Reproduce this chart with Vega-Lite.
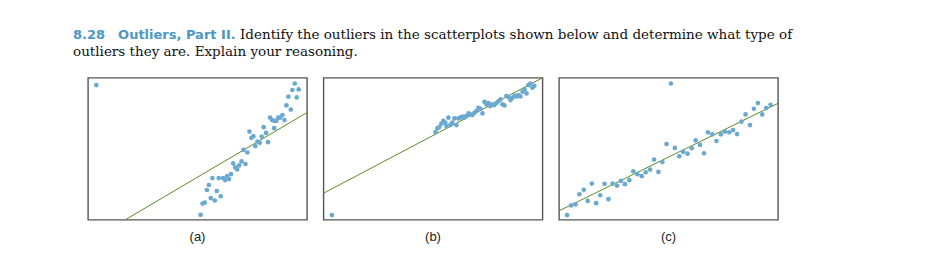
{
  "$schema": "https://vega.github.io/schema/vega-lite/v6.json",
  "padding": {"left": 73, "top": 28, "right": 5, "bottom": 5},
  "background": "white",
  "config": {
    "view": {"stroke": "#555", "strokeWidth": 1.4},
    "axis": {"disable": true}
  },
  "datasets": {
    "header": [
      {"line": 1, "part": "lead", "text": "8.28\u2002\u2002Outliers, Part II."},
      {"line": 1, "part": "body", "text": "Identify the outliers in the scatterplots shown below and determine what type of"},
      {"line": 2, "part": "body", "text": "outliers they are. Explain your reasoning."}
    ],
    "a_pts": [
      {"x": 3.8, "y": 94.9}, {"x": 94.4, "y": 96.0}, {"x": 93.3, "y": 91.4}, {"x": 96.2, "y": 91.8},
      {"x": 91.5, "y": 86.7}, {"x": 95.3, "y": 86.2}, {"x": 90.6, "y": 80.6}, {"x": 92.6, "y": 77.6},
      {"x": 83.1, "y": 72.0}, {"x": 84.0, "y": 70.3}, {"x": 85.1, "y": 69.6}, {"x": 86.0, "y": 69.6},
      {"x": 86.9, "y": 72.0}, {"x": 87.8, "y": 72.0}, {"x": 88.8, "y": 73.8}, {"x": 89.7, "y": 70.3},
      {"x": 85.0, "y": 64.5}, {"x": 80.2, "y": 65.2}, {"x": 81.3, "y": 61.2}, {"x": 79.3, "y": 58.6},
      {"x": 82.2, "y": 54.7}, {"x": 73.7, "y": 62.1}, {"x": 74.6, "y": 57.7}, {"x": 75.5, "y": 58.9},
      {"x": 77.4, "y": 55.1}, {"x": 76.4, "y": 51.9}, {"x": 78.4, "y": 54.2}, {"x": 71.0, "y": 49.3},
      {"x": 72.8, "y": 47.4}, {"x": 70.1, "y": 41.1}, {"x": 71.9, "y": 39.3}, {"x": 66.3, "y": 39.7},
      {"x": 67.2, "y": 36.9}, {"x": 68.1, "y": 35.5}, {"x": 69.0, "y": 38.3}, {"x": 65.3, "y": 32.2},
      {"x": 63.5, "y": 30.8}, {"x": 62.6, "y": 28.0}, {"x": 64.4, "y": 28.7}, {"x": 61.7, "y": 29.4},
      {"x": 59.7, "y": 29.4}, {"x": 56.8, "y": 29.4}, {"x": 55.2, "y": 24.5}, {"x": 54.3, "y": 21.0},
      {"x": 58.8, "y": 20.3}, {"x": 60.6, "y": 16.6}, {"x": 56.1, "y": 15.2}, {"x": 57.9, "y": 13.6},
      {"x": 52.3, "y": 11.4}, {"x": 53.3, "y": 12.1}, {"x": 51.4, "y": 3.5}
    ],
    "a_line": [{"x": 17.0, "y": 0}, {"x": 100, "y": 75.5}],
    "b_pts": [
      {"x": 3.8, "y": 3.3}, {"x": 51.1, "y": 61.8}, {"x": 52.0, "y": 64.4}, {"x": 52.9, "y": 65.3},
      {"x": 53.8, "y": 67.7}, {"x": 54.7, "y": 69.6}, {"x": 55.6, "y": 68.4}, {"x": 57.0, "y": 71.9},
      {"x": 56.1, "y": 66.0}, {"x": 57.9, "y": 66.7}, {"x": 58.8, "y": 68.4}, {"x": 59.8, "y": 71.4},
      {"x": 60.7, "y": 66.7}, {"x": 61.6, "y": 71.4}, {"x": 62.5, "y": 71.9}, {"x": 63.4, "y": 72.6},
      {"x": 64.3, "y": 71.9}, {"x": 65.2, "y": 73.1}, {"x": 66.2, "y": 74.9}, {"x": 67.1, "y": 74.2},
      {"x": 68.0, "y": 73.8}, {"x": 68.9, "y": 75.4}, {"x": 69.8, "y": 76.6}, {"x": 70.7, "y": 78.9},
      {"x": 71.6, "y": 78.2}, {"x": 72.6, "y": 74.9}, {"x": 73.5, "y": 83.1}, {"x": 74.4, "y": 81.3},
      {"x": 75.3, "y": 82.2}, {"x": 76.2, "y": 80.1}, {"x": 77.1, "y": 81.3}, {"x": 78.0, "y": 80.8},
      {"x": 79.0, "y": 82.2}, {"x": 79.9, "y": 83.6}, {"x": 80.8, "y": 84.8}, {"x": 81.7, "y": 81.3},
      {"x": 82.6, "y": 80.6}, {"x": 83.5, "y": 87.1}, {"x": 84.5, "y": 86.4}, {"x": 85.4, "y": 84.3},
      {"x": 86.3, "y": 85.9}, {"x": 87.2, "y": 87.4}, {"x": 88.1, "y": 86.9}, {"x": 89.0, "y": 87.8},
      {"x": 89.9, "y": 86.9}, {"x": 90.9, "y": 90.2}, {"x": 91.8, "y": 91.8}, {"x": 92.7, "y": 89.0},
      {"x": 93.6, "y": 94.8}, {"x": 94.5, "y": 96.0}, {"x": 95.4, "y": 93.0}, {"x": 96.3, "y": 94.4}
    ],
    "b_line": [{"x": 0, "y": 18.7}, {"x": 100, "y": 100}],
    "c_pts": [
      {"x": 3.7, "y": 3.3}, {"x": 5.5, "y": 10.1}, {"x": 7.5, "y": 10.8}, {"x": 9.3, "y": 18.0},
      {"x": 11.3, "y": 21.1}, {"x": 13.1, "y": 13.3}, {"x": 15.0, "y": 25.5}, {"x": 17.0, "y": 11.7},
      {"x": 18.8, "y": 17.3}, {"x": 20.8, "y": 25.3}, {"x": 22.6, "y": 14.5}, {"x": 24.5, "y": 25.5},
      {"x": 26.5, "y": 24.1}, {"x": 28.3, "y": 27.4}, {"x": 30.1, "y": 25.1}, {"x": 32.1, "y": 27.9},
      {"x": 33.9, "y": 34.2}, {"x": 35.8, "y": 32.1}, {"x": 37.8, "y": 30.7}, {"x": 39.6, "y": 33.5},
      {"x": 41.6, "y": 35.4}, {"x": 43.4, "y": 42.4}, {"x": 45.4, "y": 33.7}, {"x": 47.2, "y": 40.7},
      {"x": 49.1, "y": 53.4}, {"x": 51.1, "y": 96.0}, {"x": 52.9, "y": 50.6}, {"x": 54.9, "y": 44.7},
      {"x": 56.7, "y": 47.8}, {"x": 58.7, "y": 46.6}, {"x": 60.6, "y": 50.4}, {"x": 62.4, "y": 56.0},
      {"x": 64.4, "y": 52.7}, {"x": 66.2, "y": 46.8}, {"x": 68.0, "y": 61.6}, {"x": 70.0, "y": 60.2},
      {"x": 71.9, "y": 55.5}, {"x": 73.9, "y": 60.2}, {"x": 75.7, "y": 62.1}, {"x": 77.7, "y": 61.6},
      {"x": 79.5, "y": 63.2}, {"x": 81.3, "y": 60.4}, {"x": 83.3, "y": 69.1}, {"x": 85.2, "y": 74.2},
      {"x": 87.2, "y": 66.7}, {"x": 89.0, "y": 78.2}, {"x": 90.8, "y": 82.2}, {"x": 92.8, "y": 74.2},
      {"x": 94.6, "y": 78.7}, {"x": 96.6, "y": 81.0}
    ],
    "c_line": [{"x": 0, "y": 6.3}, {"x": 100, "y": 82.0}]
  },
  "vconcat": [
    {
      "width": 690,
      "height": 16.5,
      "view": {"stroke": null},
      "data": {"name": "header"},
      "encoding": {
        "x": {"datum": 0, "type": "quantitative", "scale": {"domain": [0, 1]}},
        "y": {"field": "line", "type": "ordinal", "scale": {"type": "point", "padding": 0}},
        "text": {"field": "text"}
      },
      "layer": [
        {
          "transform": [{"filter": "datum.part == 'lead'"}],
          "mark": {"type": "text", "align": "left", "baseline": "alphabetic", "dx": -15, "font": "DejaVu Sans", "fontWeight": "bold", "fontSize": 13, "color": "#4f97c3"}
        },
        {
          "transform": [{"filter": "datum.part == 'body' && datum.line == 1"}],
          "mark": {"type": "text", "align": "left", "baseline": "alphabetic", "dx": 152, "font": "DejaVu Serif", "fontSize": 13.5, "color": "#111"}
        },
        {
          "transform": [{"filter": "datum.part == 'body' && datum.line == 2"}],
          "mark": {"type": "text", "align": "left", "baseline": "alphabetic", "dx": -15, "font": "DejaVu Serif", "fontSize": 13.5, "color": "#111"}
        }
      ]
    },
    {
      "hconcat": [
        {
          "width": 219, "height": 142,
          "title": {"text": "(a)", "orient": "bottom", "anchor": "middle", "offset": 11, "font": "Liberation Sans", "fontSize": 13, "fontWeight": "normal", "color": "#222"},
          "layer": [
            {
              "data": {"name": "a_line"},
              "mark": {"type": "line", "color": "#5a8c2c", "strokeWidth": 1, "clip": true},
              "encoding": {
                "x": {"field": "x", "type": "quantitative", "scale": {"domain": [0, 100], "nice": false, "zero": false}},
                "y": {"field": "y", "type": "quantitative", "scale": {"domain": [0, 100], "nice": false, "zero": false}}
              }
            },
            {
              "data": {"name": "a_pts"},
              "mark": {"type": "circle", "size": 22, "color": "#6aa9cf", "opacity": 1},
              "encoding": {
                "x": {"field": "x", "type": "quantitative"},
                "y": {"field": "y", "type": "quantitative"}
              }
            }
          ]
        },
        {
          "width": 219, "height": 142,
          "title": {"text": "(b)", "orient": "bottom", "anchor": "middle", "offset": 11, "font": "Liberation Sans", "fontSize": 13, "fontWeight": "normal", "color": "#222"},
          "layer": [
            {
              "data": {"name": "b_line"},
              "mark": {"type": "line", "color": "#5a8c2c", "strokeWidth": 1, "clip": true},
              "encoding": {
                "x": {"field": "x", "type": "quantitative", "scale": {"domain": [0, 100], "nice": false, "zero": false}},
                "y": {"field": "y", "type": "quantitative", "scale": {"domain": [0, 100], "nice": false, "zero": false}}
              }
            },
            {
              "data": {"name": "b_pts"},
              "mark": {"type": "circle", "size": 22, "color": "#6aa9cf", "opacity": 1},
              "encoding": {
                "x": {"field": "x", "type": "quantitative"},
                "y": {"field": "y", "type": "quantitative"}
              }
            }
          ]
        },
        {
          "width": 219, "height": 142,
          "title": {"text": "(c)", "orient": "bottom", "anchor": "middle", "offset": 11, "font": "Liberation Sans", "fontSize": 13, "fontWeight": "normal", "color": "#222"},
          "layer": [
            {
              "data": {"name": "c_line"},
              "mark": {"type": "line", "color": "#5a8c2c", "strokeWidth": 1, "clip": true},
              "encoding": {
                "x": {"field": "x", "type": "quantitative", "scale": {"domain": [0, 100], "nice": false, "zero": false}},
                "y": {"field": "y", "type": "quantitative", "scale": {"domain": [0, 100], "nice": false, "zero": false}}
              }
            },
            {
              "data": {"name": "c_pts"},
              "mark": {"type": "circle", "size": 22, "color": "#6aa9cf", "opacity": 1},
              "encoding": {
                "x": {"field": "x", "type": "quantitative"},
                "y": {"field": "y", "type": "quantitative"}
              }
            }
          ]
        }
      ],
      "spacing": 16.5,
      "bounds": "flush"
    }
  ],
  "spacing": 21.8,
  "bounds": "flush"
}
